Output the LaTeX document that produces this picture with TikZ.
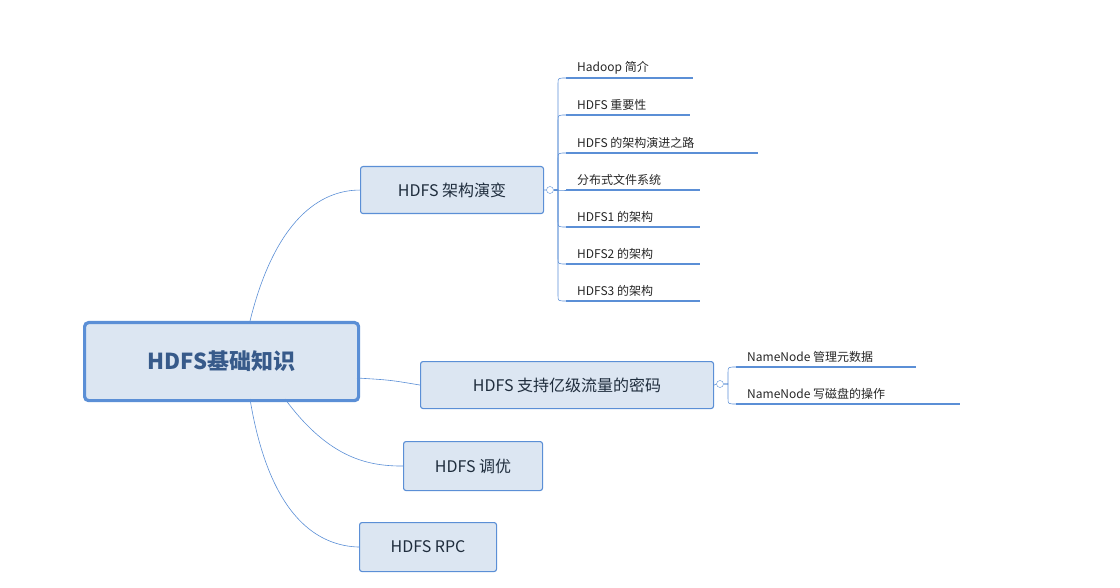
\documentclass[tikz,border=0pt]{standalone}
\usepackage{fontspec}
\setmainfont{Noto Sans CJK SC}
\definecolor{mid}{HTML}{5B8FD6}
\definecolor{boxfill}{HTML}{DCE6F2}
\definecolor{txt}{HTML}{1F2D3D}
\definecolor{HDFStxt}{HTML}{375A8A}
\begin{document}
\begin{tikzpicture}[x=1pt,y=-1pt,
  link/.style={draw=mid, line width=0.6pt},
  box/.style={draw=mid, fill=boxfill, rounded corners=2.5pt, line width=1.1pt, text=txt, font=\fontsize{16}{18}\selectfont, inner sep=0pt, anchor=north west},
  leaf/.style={anchor=south west, inner sep=0pt, font=\fontsize{12}{14}\selectfont, text=black!85},
  uline/.style={draw=mid, line width=1.6pt},
  br/.style={draw=mid, line width=0.6pt}]
\useasboundingbox (0,0) rectangle (1120,588);
\node[box, minimum width=274pt, minimum height=78pt, line width=3.2pt, rounded corners=4pt, font=\bfseries\fontsize{22}{26}\selectfont, text=HDFStxt] at (83,321) (root) {HDFS基础知识};
\node[box, minimum width=183pt, minimum height=47pt] at (360,166) (c1) {HDFS 架构演变};
\node[box, minimum width=293pt, minimum height=47pt] at (420,361) (c2) {HDFS 支持亿级流量的密码};
\node[box, minimum width=139pt, minimum height=49pt] at (403,441) (c3) {HDFS 调优};
\node[box, minimum width=137pt, minimum height=49pt] at (359,522) (c4) {HDFS RPC};
\draw[link] (250,321) .. controls (275,220) and (320,190) .. (c1.west);
\draw[link] (357,378) .. controls (390,380) .. (c2.west);
\draw[link] (285,399) .. controls (330,460) and (370,466) .. (c3.west);
\draw[link] (250,399) .. controls (270,520) and (320,546) .. (c4.west);
% bracket 1
\node[circle, draw=mid, inner sep=0pt, minimum size=7pt, fill=white] at (550,190) (k1) {};
\draw[br] (c1.east) -- (k1.west);
\coordinate (b1) at (554,190);
\foreach \y/\t/\r/\n in {78/Hadoop 简介/693/a,115/HDFS 重要性/690/b,153/HDFS 的架构演进之路/758/c,190/分布式文件系统/700/d,227/HDFS1 的架构/700/e,264/HDFS2 的架构/700/f,301/HDFS3 的架构/700/g}{
  \node[leaf] at (577,\y-4) (l\n) {\t};
  \coordinate (u\n) at (\r,\y);
  \draw[br] (b1) -- (558,190) -- (558,{\y+(\y<190?6:(\y>190?-6:0))}) .. controls (558,\y) .. (566,\y);
  \draw[uline] (566,\y) -- (u\n);
}
% bracket 2
\node[circle, draw=mid, inner sep=0pt, minimum size=7pt, fill=white] at (720,384) (k2) {};
\draw[br] (c2.east) -- (k2.west);
\foreach \y/\t/\r/\n in {367/NameNode 管理元数据/916/h,404/NameNode 写磁盘的操作/960/i}{
  \node[leaf] at (747,\y-4) (l\n) {\t};
  \coordinate (u\n) at (\r,\y);
  \draw[br] (724,384) -- (728,384) -- (728,{\y+(\y<384?6:-6)}) .. controls (728,\y) .. (736,\y);
  \draw[uline] (736,\y) -- (u\n);
}
\end{tikzpicture}
\end{document}
